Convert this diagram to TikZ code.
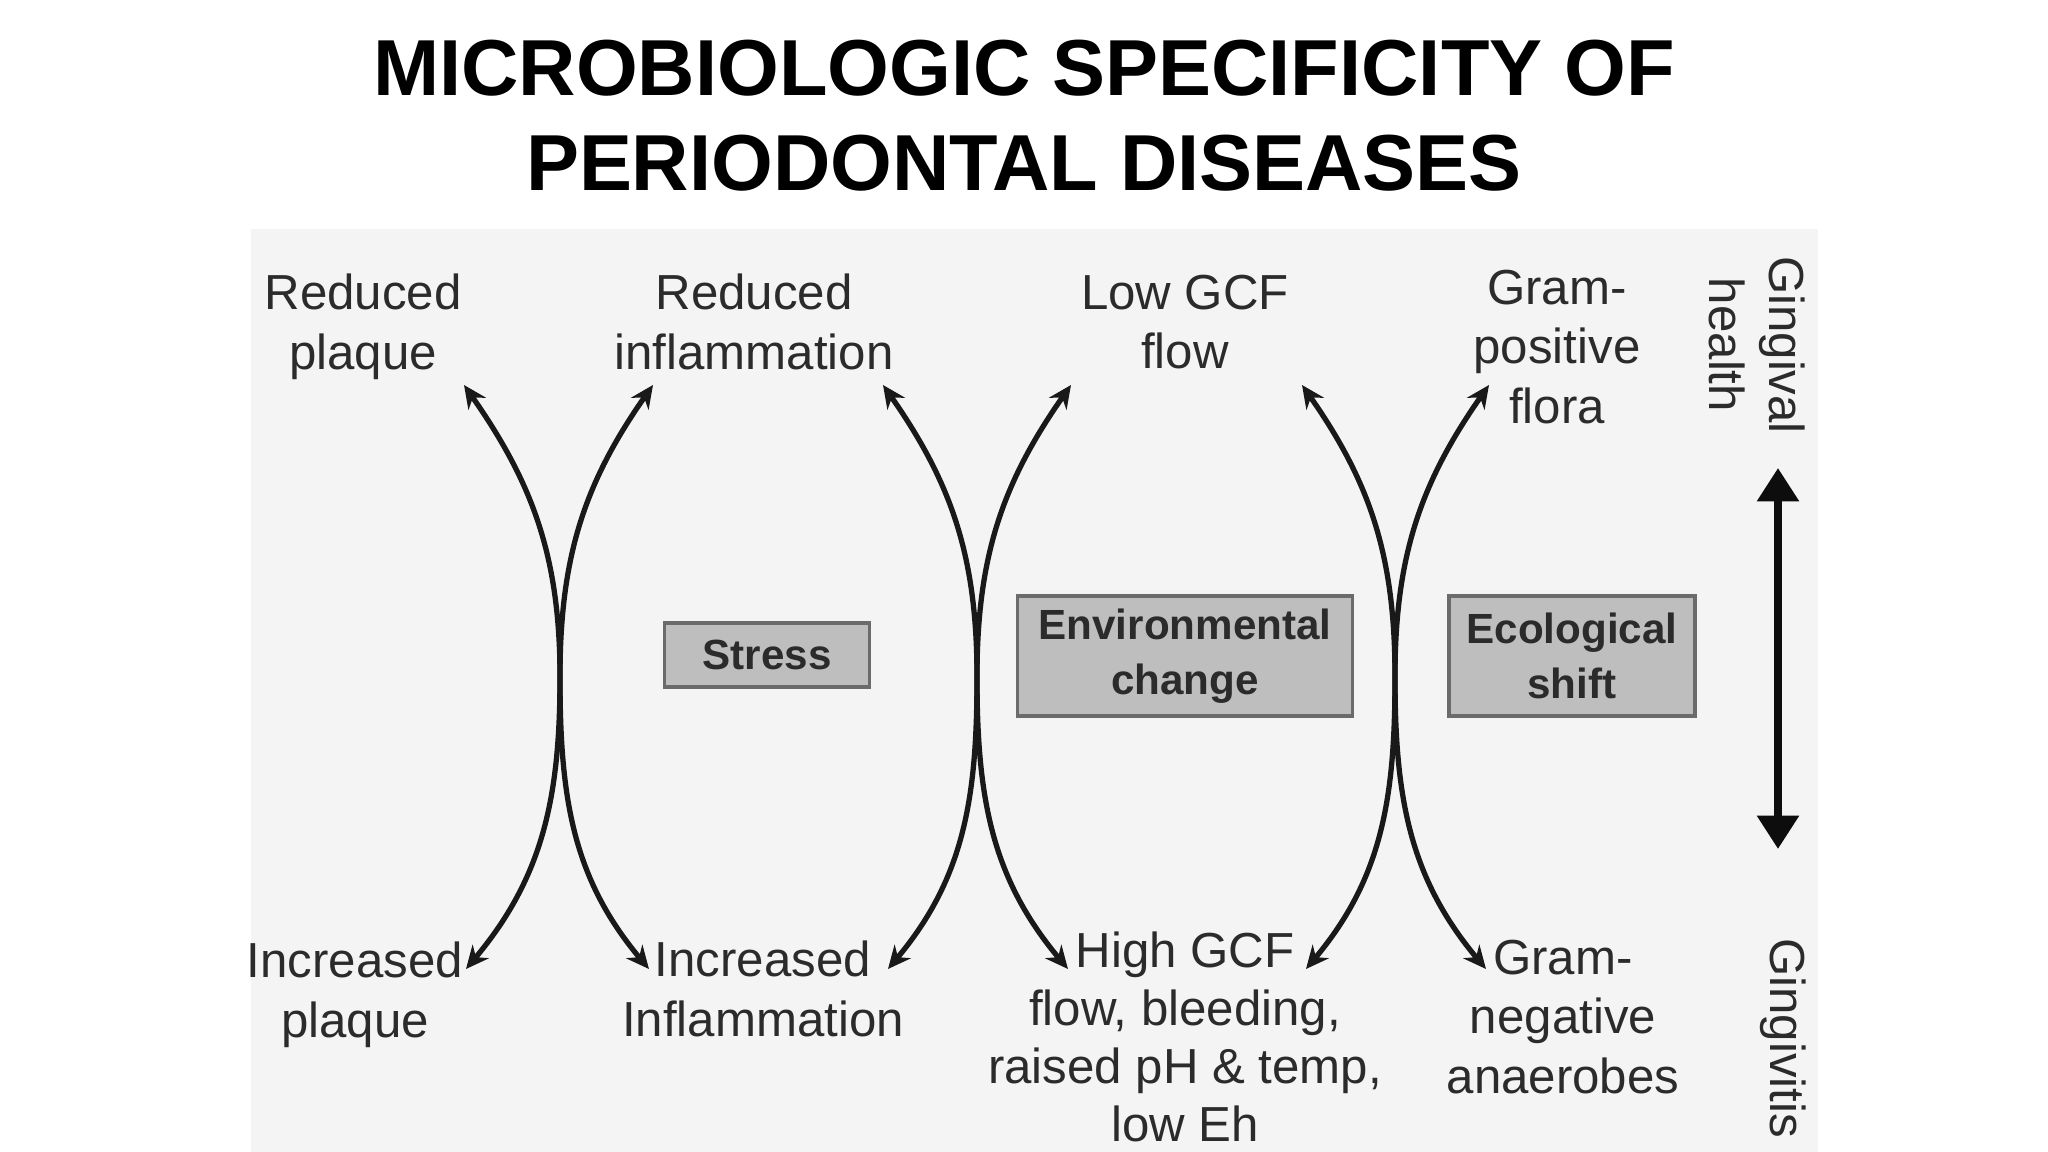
\documentclass[tikz,border=0pt]{standalone}
\usepackage{fontspec}
\setmainfont{Liberation Sans}
\usepackage{tikz}
\usetikzlibrary{arrows.meta}

\definecolor{panelbg}{HTML}{F4F4F4}
\definecolor{boxfill}{HTML}{BEBEBE}
\definecolor{boxline}{HTML}{6B6B6B}
\definecolor{labeltxt}{HTML}{2B2B2B}

\begin{document}
\begin{tikzpicture}[
    lbl/.style={align=center, inner sep=0pt, text=labeltxt, font=\fontsize{14}{17}\selectfont},
    stage/.style={draw=boxline, fill=boxfill, line width=0.9pt, align=center, inner sep=0pt,
        text=labeltxt, font=\fontsize{12}{15.5}\selectfont\bfseries},
    cyc/.style={line width=1.5pt, draw=black!90,
        {Stealth[length=6.5pt,width=6pt]}-{Stealth[length=6.5pt,width=6pt]}},
    axis/.style={line width=2.2pt, draw=black!95,
        {Triangle[width=11.5pt,length=9.5pt]}-{Triangle[width=11.5pt,length=9.5pt]}}
]

% Page and panel
\fill[white] (0,0) rectangle (20.48,-11.52);
\useasboundingbox (0,0) rectangle (20.48,-11.52);
\fill[panelbg] (2.51,-2.29) rectangle (18.18,-11.52);

% Title
\node (title) at (10.24,-1.155) [align=center, inner sep=0pt,
    font=\fontsize{22.6}{27}\selectfont\bfseries]
    {MICROBIOLOGIC SPECIFICITY OF\\PERIODONTAL DISEASES};

% Top labels
\node (rplaque) at (3.63,-3.27) [lbl] {Reduced\\plaque};
\node (rinfl) at (7.54,-3.22) [lbl] {Reduced\\inflammation};
\node (lowgcf) at (11.85,-3.22) [lbl] {Low GCF\\flow};
\node (gpos) at (15.57,-3.47) [lbl] {Gram-\\positive\\flora};

% Bottom labels
\node (iplaque) at (3.55,-9.95) [lbl] {Increased\\plaque};
\node (iinfl) at (7.63,-9.89) [lbl] {Increased\\Inflammation};
\node (highgcf) at (11.85,-10.37) [lbl, font=\fontsize{14}{16.5}\selectfont]
    {High GCF\\flow, bleeding,\\raised pH \& temp,\\low Eh};
\node (gneg) at (15.63,-10.17) [lbl] {Gram-\\negative\\anaerobes};

% Boxes
\node (stress) at (7.67,-6.55) [stage, minimum width=2.05cm, minimum height=0.64cm] {Stress};
\node (envchg) at (11.85,-6.56) [stage, minimum width=3.35cm, minimum height=1.20cm] {Environmental\\change};
\node (ecoshift) at (15.72,-6.56) [stage, minimum width=2.46cm, minimum height=1.20cm] {Ecological\\shift};

% Side labels
\node (ghealth) at (17.57,-3.45) [lbl, rotate=-90] {Gingival\\health};
\node (gingivitis) at (17.83,-10.38) [lbl, rotate=-90] {Gingivitis};

% Arrow ends
\coordinate (p1tl) at (4.64,-3.85);
\coordinate (p1tr) at (6.53,-3.85);
\coordinate (p1bl) at (4.66,-9.69);
\coordinate (p1br) at (6.49,-9.69);
\coordinate (p1x) at (5.60,-6.77);
\coordinate (p2tl) at (8.83,-3.85);
\coordinate (p2tr) at (10.71,-3.85);
\coordinate (p2bl) at (8.88,-9.69);
\coordinate (p2br) at (10.68,-9.69);
\coordinate (p2x) at (9.77,-6.77);
\coordinate (p3tl) at (13.02,-3.85);
\coordinate (p3tr) at (14.89,-3.85);
\coordinate (p3bl) at (13.06,-9.69);
\coordinate (p3br) at (14.86,-9.69);
\coordinate (p3x) at (13.95,-6.77);
\coordinate (hup) at (17.78,-4.68);
\coordinate (hdown) at (17.78,-8.49);

% Crossing arrows
\draw[cyc] (p1tl) to[out=-55, in=90] (p1x) to[out=-90, in=130] (p1br);
\draw[cyc] (p1tr) to[out=-125, in=90] (p1x) to[out=-90, in=50] (p1bl);
\draw[cyc] (p2tl) to[out=-55, in=90] (p2x) to[out=-90, in=130] (p2br);
\draw[cyc] (p2tr) to[out=-125, in=90] (p2x) to[out=-90, in=50] (p2bl);
\draw[cyc] (p3tl) to[out=-55, in=90] (p3x) to[out=-90, in=130] (p3br);
\draw[cyc] (p3tr) to[out=-125, in=90] (p3x) to[out=-90, in=50] (p3bl);

% Health axis
\draw[axis] (hup) -- (hdown);

\end{tikzpicture}
\end{document}
